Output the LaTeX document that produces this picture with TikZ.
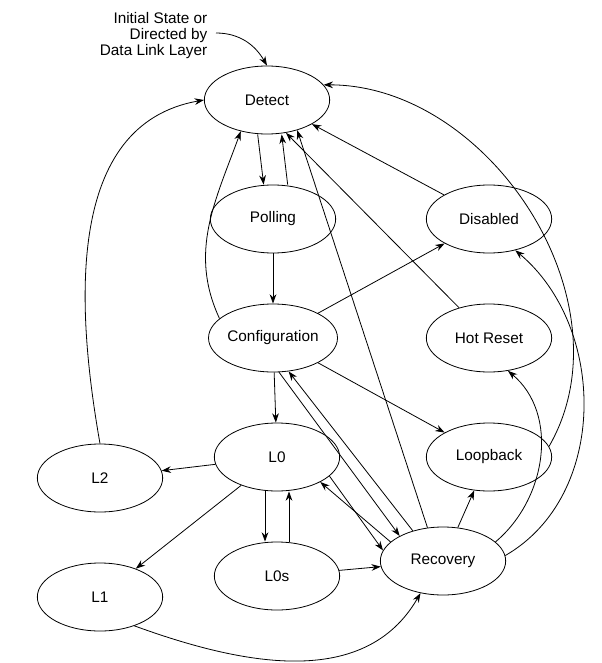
\documentclass[tikz,border=0pt]{standalone}
\usepackage{fontspec}
\setmainfont{Liberation Sans}
\usetikzlibrary{arrows.meta, shapes.geometric}
\begin{document}
\begin{tikzpicture}[x=0.75pt,y=-0.75pt,
    st/.style={draw, semithick, ellipse, minimum width=94pt, minimum height=51pt, inner sep=0pt, font=\fontsize{11.5}{13}\selectfont},
    tr/.style={semithick, -{Stealth[length=7pt,width=5pt]}}]
    \useasboundingbox (0,0) rectangle (602,663);
    % States
    \node [st] (det) at (267,100) {Detect};
    \node [st] (pol) at (273,219) {Polling};
    \node [st] (dis) at (489,219) {Disabled};
    \node [st] (cfg) at (273,338) {Configuration};
    \node [st] (hot) at (489,338) {Hot Reset};
    \node [st] (l0) at (277,457) {L0};
    \node [st] (lpb) at (489,457) {Loopback};
    \node [st] (l2) at (100,478) {L2};
    \node [st] (l1) at (100,597) {L1};
    \node [st] (l0s) at (277,576) {L0s};
    \node [st] (rec) at (443,561) {Recovery};
    % Entry
    \node [font=\fontsize{11.5}{12}\selectfont, align=right, anchor=north east] (init) at (212,8) {Initial State or\\Directed by\\Data Link Layer};
    \draw [tr] (216,33) to[out=0,in=120] (det.north);
    % Transitions
    \draw [tr] ([xshift=-7pt]det.south) -- ([xshift=-7pt]pol.north);
    \draw [tr] ([xshift=11pt]pol.north) -- ([xshift=11pt]det.south);
    \draw [tr] (pol) -- (cfg);
    \draw [tr] (cfg.160) to[out=115,in=-110] (det.230);
    \draw [tr] (cfg) -- (dis);
    \draw [tr] (cfg) -- (l0);
    \draw [tr] (cfg) -- (lpb);
    \draw [tr] (rec.135) -- (cfg.295);
    \draw [tr] (cfg.280) -- (rec.150);
    \draw [tr] (l0) -- (l2);
    \draw [tr] (l0) -- (l1);
    \draw [tr] ([xshift=-9pt]l0.south) -- ([xshift=-9pt]l0s.north);
    \draw [tr] ([xshift=9pt]l0s.north) -- ([xshift=9pt]l0.south);
    \draw [tr] (rec.160) -- (l0.-30);
    \draw [tr] (l0.-20) -- (rec.170);
    \draw [tr] (l0s) -- (rec);
    \draw [tr] (l1.-40) to[out=-20,in=-120] (rec.235);
    \draw [tr] (l2.north) to[out=100,in=190] (det.west);
    \draw [tr] (dis) -- (det);
    \draw [tr] (hot) -- (det.-60);
    \draw [tr] (rec.115) -- (det.-45);
    \draw [tr] (rec) -- (lpb);
    \draw [tr] (lpb.10) to[out=60,in=0] (det.15);
    \draw [tr] (rec.5) to[out=30,in=-40] (dis.-50);
    \draw [tr] (rec.20) to[out=40,in=-40] (hot.-60);
\end{tikzpicture}
\end{document}
